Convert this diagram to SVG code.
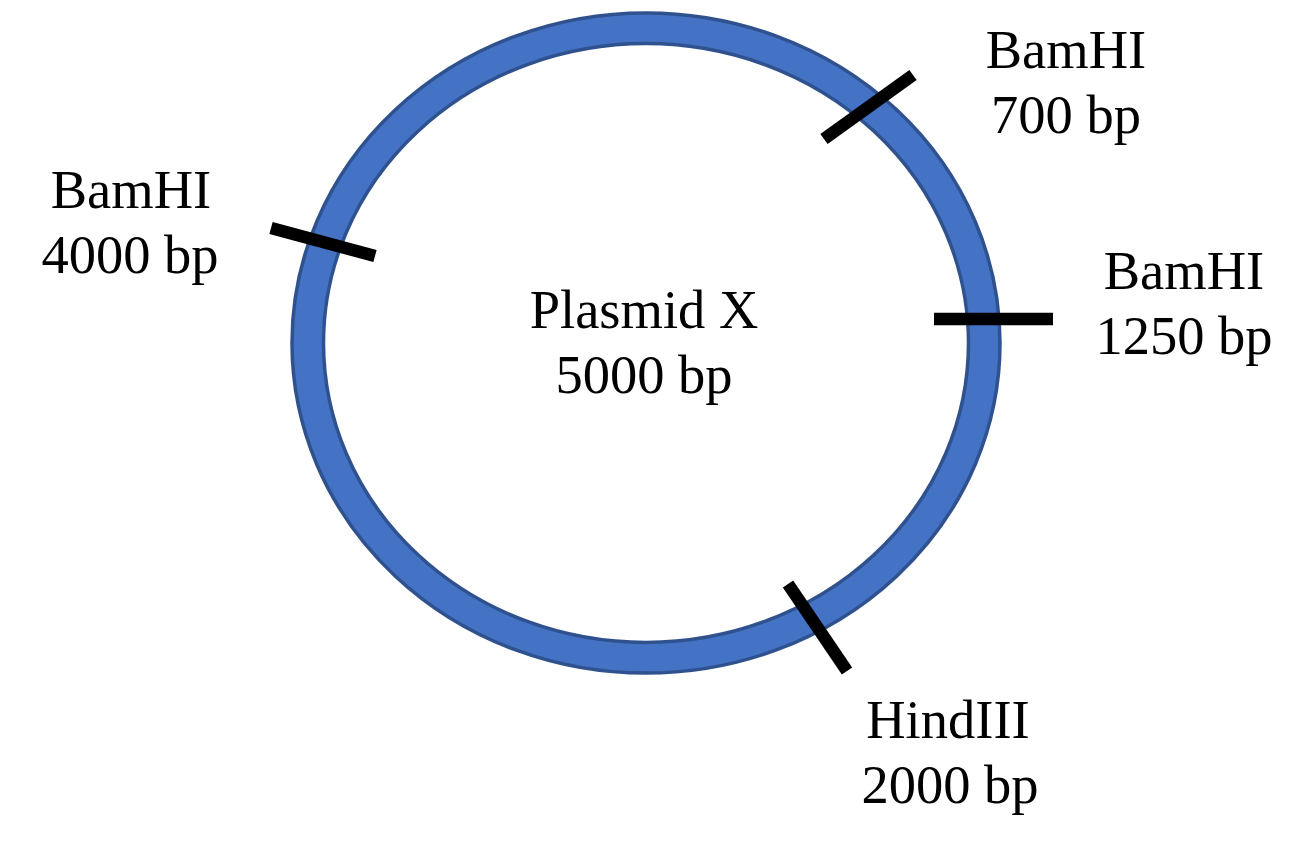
<svg xmlns="http://www.w3.org/2000/svg" width="1313" height="849" viewBox="0 0 1313 849">
<style>
.lbl{font-family:"Liberation Serif","Times New Roman",serif;font-size:54.5px;fill:#000;text-anchor:middle}
.tick{stroke:#000;stroke-width:12.5;stroke-linecap:butt;fill:none}
</style>
<rect width="1313" height="849" fill="#fff"/>
<g id="plasmid">
<path fill="#4472C4" fill-rule="evenodd" stroke="#2F528F" stroke-width="3.5" d="M292,343 A354,330 0 1,0 1000,343 A354,330 0 1,0 292,343 Z M323.5,343 A322.5,299.5 0 1,0 968.5,343 A322.5,299.5 0 1,0 323.5,343 Z"/>
<text class="lbl" x="644" y="328">Plasmid X</text>
<text class="lbl" x="644" y="393">5000 bp</text>
</g>
<g id="connectors">
<line class="tick" x1="824" y1="139" x2="913" y2="75"/>
<line class="tick" x1="934" y1="319" x2="1053" y2="319"/>
<line class="tick" x1="788" y1="584" x2="847" y2="671"/>
<line class="tick" x1="271" y1="228" x2="375" y2="256"/>
</g>
<g id="site-700">
<text class="lbl" x="1066" y="68">BamHI</text>
<text class="lbl" x="1066" y="133">700 bp</text>
</g>
<g id="site-1250">
<text class="lbl" x="1184" y="289">BamHI</text>
<text class="lbl" x="1184" y="354">1250 bp</text>
</g>
<g id="site-2000">
<text class="lbl" x="948" y="738">HindIII</text>
<text class="lbl" x="950" y="803">2000 bp</text>
</g>
<g id="site-4000">
<text class="lbl" x="131" y="208">BamHI</text>
<text class="lbl" x="130" y="273">4000 bp</text>
</g>
</svg>
